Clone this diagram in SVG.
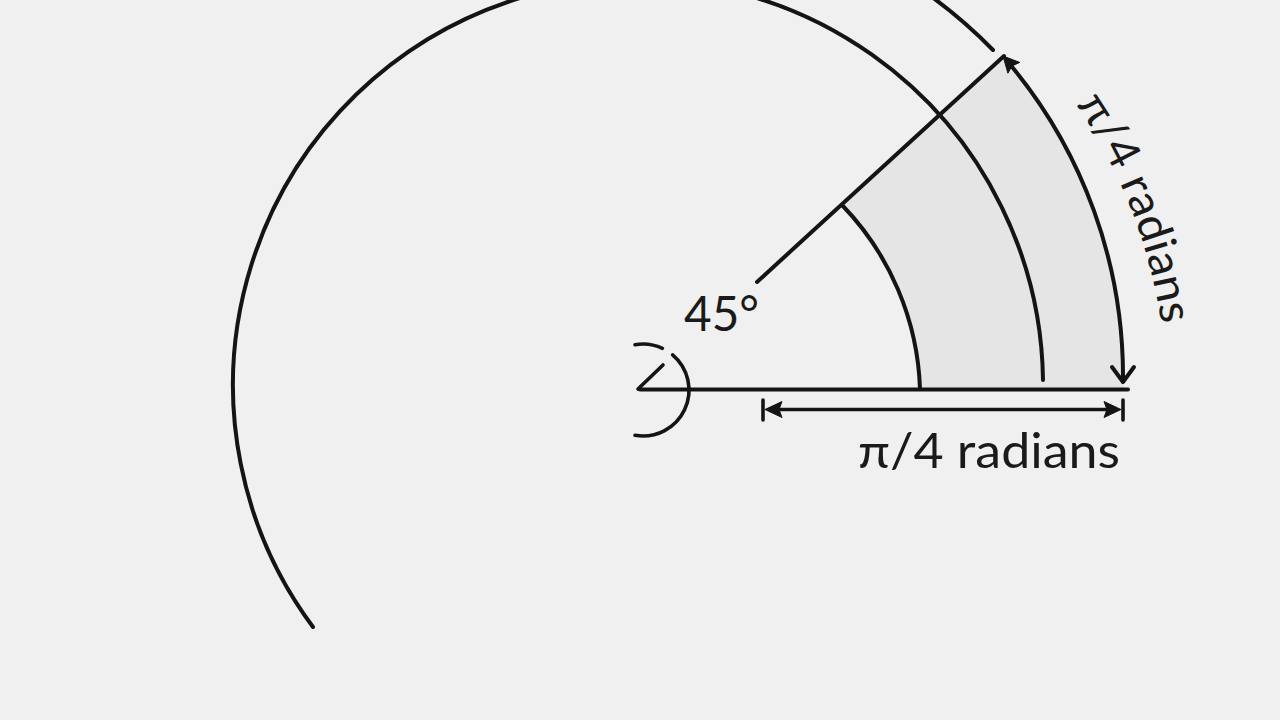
<svg xmlns="http://www.w3.org/2000/svg" width="1280" height="720" viewBox="0 0 1280 720">
<style>
.ln{fill:none;stroke:#141414;stroke-width:4;stroke-linecap:round;stroke-linejoin:round}
.thin{fill:none;stroke:#141414;stroke-width:3.6;stroke-linecap:round}
.head{fill:#141414;stroke:#141414;stroke-width:1;stroke-linejoin:round}
.lbl{font-family:Lato,"Noto Sans","DejaVu Sans",sans-serif;fill:#1a1a1a}
</style>
<defs>
<path id="tp" d="M 1057 78.5 A 527 527 0 0 1 1167 389"/>
</defs>
<rect x="0" y="0" width="1280" height="720" fill="#f0f0f0"/>
<g id="sector">
<path d="M 920 389 A 278 278 0 0 0 842 205 L 1004 58 A 488 488 0 0 1 1124 389 Z" fill="#e5e5e5"/>
</g>
<g id="big-circle">
<path class="ln" d="M 313 627 A 405 405 0 1 1 1043 380"/>
</g>
<g id="outer-arc">
<path class="ln" d="M 884 -34 A 488 488 0 0 1 993 50"/>
</g>
<g id="inner-arc">
<path class="ln" d="M 920 389 A 278 278 0 0 0 842 205"/>
</g>
<g id="rays">
<path class="ln" d="M 640 389.5 L 1128 389.5"/>
<path class="ln" d="M 757 282 L 1004 56"/>
</g>
<g id="angle-mark">
<path class="thin" d="M 635 344.7 A 46 46 0 0 1 662.4 348.3"/>
<path class="thin" d="M 672.6 354.8 A 46 46 0 0 1 635 435.3"/>
<path class="thin" d="M 638 389 L 663 365"/>
</g>
<g id="connectors">
<g id="arc-dimension">
<path class="ln" d="M 1008 62 A 488 488 0 0 1 1123 381"/>
<polygon class="head" points="1003,56 1019.7,62.4 1012,66 1007.9,73.2"/>
<path class="ln" d="M 1112 367 L 1123 382 L 1134 367"/>
</g>
<g id="line-dimension">
<path class="thin" d="M 770 409.5 L 1116 409.5"/>
<path class="thin" d="M 763 400 L 763 420"/>
<path class="thin" d="M 1123 400 L 1123 420"/>
<polygon class="head" points="765,409.5 782,401.5 779,409.5 782,417.5"/>
<polygon class="head" points="1121,409.5 1104,401.5 1107,409.5 1104,417.5"/>
</g>
</g>
<g id="labels">
<text class="lbl" x="684" y="331" font-size="48" textLength="75" lengthAdjust="spacingAndGlyphs">45°</text>
<text class="lbl" x="858" y="468" font-size="48" textLength="262" lengthAdjust="spacingAndGlyphs">π/4 radians</text>
<text class="lbl" font-size="45"><textPath href="#tp" startOffset="32" textLength="238" lengthAdjust="spacingAndGlyphs">π/4 radians</textPath></text>
</g>
</svg>
